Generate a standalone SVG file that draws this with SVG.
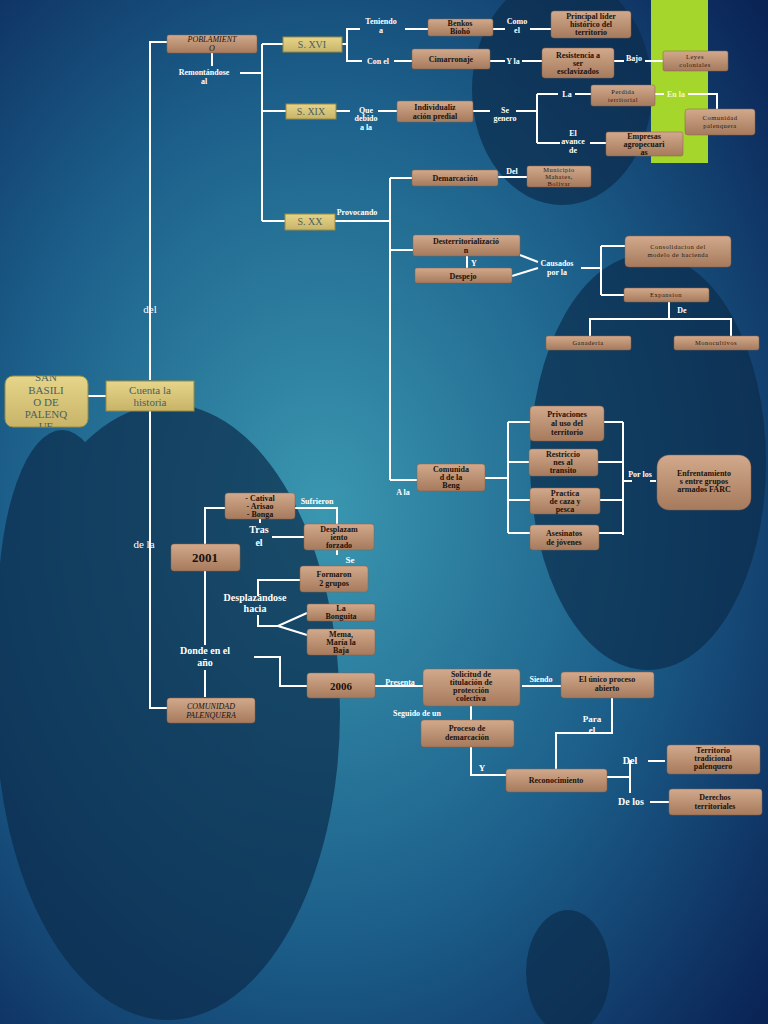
<svg xmlns="http://www.w3.org/2000/svg" width="768" height="1024" viewBox="0 0 768 1024">
<defs>
<radialGradient id="bg" cx="0.42" cy="0.5" r="0.75">
<stop offset="0" stop-color="#3a97b0"/><stop offset="0.55" stop-color="#1c5f8a"/><stop offset="1" stop-color="#0a2456"/>
</radialGradient>
<linearGradient id="br" x1="0" y1="0" x2="0" y2="1"><stop offset="0" stop-color="#d2a98c"/><stop offset="1" stop-color="#a67a5c"/></linearGradient>
<linearGradient id="gd" x1="0" y1="0" x2="0" y2="1"><stop offset="0" stop-color="#e6d58a"/><stop offset="1" stop-color="#c8b468"/></linearGradient>
<clipPath id="sb"><rect x="5" y="376" width="83" height="51" rx="8"/></clipPath>
</defs>
<style>
.n{fill:url(#br);stroke:#8a6048;stroke-width:0.5}
.g{fill:url(#gd);stroke:#9a8a40;stroke-width:1}
.t{font-family:"Liberation Serif",serif;font-weight:bold;font-size:8px;fill:#1a120c;text-anchor:middle}
.s{font-family:"Liberation Serif",serif;font-size:6.5px;fill:#2a1a10;text-anchor:middle;letter-spacing:0.5px}
.w{font-family:"Liberation Serif",serif;font-weight:bold;font-size:8px;fill:#fff;text-anchor:middle}
.wl{font-family:"Liberation Serif",serif;font-weight:bold;font-size:11px;fill:#fff;text-anchor:middle}
.c path,.c line{stroke:#fff;stroke-width:2;fill:none}
.x{font-family:"Liberation Serif",serif;font-size:10px;fill:#4a6060;text-anchor:middle}
.it{font-style:italic;font-weight:normal}
</style>
<rect width="768" height="1024" fill="url(#bg)"/>
<g fill="#0c2c4c" opacity="0.7">
<ellipse cx="62" cy="608" rx="64" ry="178"/>
<ellipse cx="168" cy="712" rx="172" ry="308"/>
<ellipse cx="648" cy="462" rx="118" ry="208"/>
<ellipse cx="562" cy="90" rx="90" ry="115"/>
<ellipse cx="568" cy="972" rx="42" ry="62"/>
</g>
<rect x="651" y="0" width="57" height="163" fill="#a4d62c"/>

<g class="c">
<line x1="88" y1="396" x2="106" y2="396"/>
<path d="M167,42H150V380M150,411V708H167"/>
<path d="M212,53V66M240,73H262M262,44V221M262,44H283M262,111H286M262,221H285"/>
<path d="M342,44H347M360,29H347V61H362M405,29H428M493,29H505M530,29H551M394,61H412M490,61H505M522,61H542M614,61H624M645,61H663"/>
<path d="M336,111H350M378,111H397M473,111H490M516,111H537M537,94V143M537,94H558M575,94H591M655,94H664M688,94H717V109M537,143H560M590,143H606"/>
<path d="M335,221H390M390,178V480M390,178H412M498,177H527M390,250H413M467,256V268M520,255L538,262M512,276L538,268M581,268H601M601,246V295M601,246H625M601,295H624M669,302V319M590,336V319H731V336"/>
<path d="M390,480H417M485,478H508M508,422V533M508,422H530M508,462H529M508,500H530M508,533H530M604,422H623M598,462H623M600,500H623M599,533H623M623,422V535M623,481H632M650,481H656"/>
<path d="M205,544V508H225M205,571V645M205,670V697M295,508H337V524M260,519V523M272,537H304M337,550V555M300,580H258V596M258,615V626H278L307,613M278,626L307,635M254,657H280V686H307"/>
<path d="M375,686H423M522,686H561M612,698V733H556V770M471,706V720M471,747V775H506M607,777H630M630,760V793M648,761H665M650,802H669"/>
</g>

<g id="sanbasilio"><rect x="5" y="376" width="83" height="51" rx="8" class="g"/>
<g clip-path="url(#sb)"><text class="x" x="46" y="381" style="font-size:11px">SAN</text><text class="x" x="46" y="394" style="font-size:11px">BASILI</text><text class="x" x="46" y="406" style="font-size:11px">O DE</text><text class="x" x="46" y="418" style="font-size:11px">PALENQ</text><text class="x" x="46" y="430" style="font-size:11px">UE</text></g></g>
<g id="cuenta"><rect x="106" y="381" width="88" height="30" class="g"/><text class="x" x="150" y="394" style="font-size:11px">Cuenta la</text><text class="x" x="150" y="406" style="font-size:11px">historia</text></g>
<text class="wl" x="150" y="313" style="font-weight:normal">del</text>
<text class="wl" x="144" y="548" style="font-weight:normal">de la</text>

<g id="poblamiento"><rect x="167" y="35" width="90" height="18" rx="2" class="n"/><text class="t it" x="212" y="42">POBLAMIENT</text><text class="t it" x="212" y="51">O</text></g>
<text class="w" x="204" y="75">Remontándose</text><text class="w" x="204" y="84">al</text>
<g id="s16"><rect x="283" y="37" width="59" height="15" class="g"/><text class="x" x="312" y="48">S. XVI</text></g>
<g id="s19"><rect x="286" y="104" width="50" height="15" class="g"/><text class="x" x="311" y="115">S. XIX</text></g>
<g id="s20"><rect x="285" y="214" width="50" height="16" class="g"/><text class="x" x="310" y="225">S. XX</text></g>

<text class="w" x="381" y="24">Teniendo</text><text class="w" x="381" y="33">a</text>
<g id="benkos"><rect x="428" y="19" width="65" height="17" rx="2" class="n"/><text class="t" x="460" y="26">Benkos</text><text class="t" x="460" y="34">Biohó</text></g>
<text class="w" x="517" y="24">Como</text><text class="w" x="517" y="33">el</text>
<g id="lider"><rect x="551" y="11" width="80" height="27" rx="3" class="n"/><text class="t" x="591" y="19">Principal líder</text><text class="t" x="591" y="27">histórico del</text><text class="t" x="591" y="35">territorio</text></g>
<text class="w" x="378" y="64">Con el</text>
<g id="cimarronaje"><rect x="412" y="49" width="78" height="20" rx="2" class="n"/><text class="t" x="451" y="62">Cimarronaje</text></g>
<text class="w" x="513" y="64">Y la</text>
<g id="resistencia"><rect x="542" y="48" width="72" height="30" rx="3" class="n"/><text class="t" x="578" y="58">Resistencia a</text><text class="t" x="578" y="66">ser</text><text class="t" x="578" y="74">esclavizados</text></g>
<text class="w" x="634" y="61">Bajo</text>
<g id="leyes"><rect x="663" y="51" width="65" height="20" rx="2" class="n"/><text class="s" x="695" y="59">Leyes</text><text class="s" x="695" y="67">coloniales</text></g>

<text class="w" x="366" y="113">Que</text><text class="w" x="366" y="121">debido</text><text class="w" x="366" y="130">a la</text>
<g id="individualizacion"><rect x="397" y="101" width="76" height="21" rx="2" class="n"/><text class="t" x="435" y="110">Individualiz</text><text class="t" x="435" y="119">ación predial</text></g>
<text class="w" x="505" y="113">Se</text><text class="w" x="505" y="121">genero</text>
<text class="w" x="567" y="97">La</text>
<g id="perdida"><rect x="591" y="85" width="64" height="21" rx="2" class="n"/><text class="s" x="623" y="94">Perdida</text><text class="s" x="623" y="102">territorial</text></g>
<text class="w" x="676" y="97" style="fill:#f2f6d0">En la</text>
<g id="comunidadpal"><rect x="685" y="109" width="70" height="26" rx="3" class="n"/><text class="s" x="720" y="120">Comunidad</text><text class="s" x="720" y="128">palenquera</text></g>
<text class="w" x="573" y="136">El</text><text class="w" x="573" y="144">avance</text><text class="w" x="573" y="153">de</text>
<g id="empresas"><rect x="606" y="132" width="77" height="24" rx="2" class="n"/><text class="t" x="644" y="139">Empresas</text><text class="t" x="644" y="147">agropecuari</text><text class="t" x="644" y="155">as</text></g>

<text class="w" x="357" y="215">Provocando</text>
<g id="demarcacion"><rect x="412" y="170" width="86" height="16" rx="2" class="n"/><text class="t" x="455" y="181">Demarcación</text></g>
<text class="w" x="512" y="174">Del</text>
<g id="municipio"><rect x="527" y="166" width="64" height="21" rx="2" class="n"/><text class="s" x="559" y="172">Municipio</text><text class="s" x="559" y="179">Mahates,</text><text class="s" x="559" y="186">Bolivar</text></g>
<g id="desterr"><rect x="413" y="235" width="107" height="21" rx="2" class="n"/><text class="t" x="466" y="244">Desterritorializació</text><text class="t" x="466" y="253">n</text></g>
<text class="w" x="474" y="266">Y</text>
<g id="despejo"><rect x="415" y="268" width="97" height="15" rx="2" class="n"/><text class="t" x="463" y="279">Despejo</text></g>
<text class="w" x="557" y="266">Causados</text><text class="w" x="557" y="275">por la</text>
<g id="consolidacion"><rect x="625" y="236" width="106" height="31" rx="4" class="n"/><text class="s" x="678" y="249">Consolidacion del</text><text class="s" x="678" y="257">modelo de hacienda</text></g>
<g id="expansion"><rect x="624" y="288" width="85" height="14" rx="2" class="n"/><text class="s" x="666" y="297">Expansion</text></g>
<text class="w" x="682" y="313">De</text>
<g id="ganaderia"><rect x="546" y="336" width="85" height="14" rx="2" class="n"/><text class="s" x="588" y="345">Ganadería</text></g>
<g id="monocultivos"><rect x="674" y="336" width="85" height="14" rx="2" class="n"/><text class="s" x="716" y="345">Monocultivos</text></g>

<g id="beng"><rect x="417" y="464" width="68" height="27" rx="3" class="n"/><text class="t" x="451" y="472">Comunida</text><text class="t" x="451" y="480">d de la</text><text class="t" x="451" y="488">Beng</text></g>
<text class="w" x="403" y="495">A la</text>
<g id="privaciones"><rect x="530" y="406" width="74" height="35" rx="4" class="n"/><text class="t" x="567" y="417">Privaciones</text><text class="t" x="567" y="426">al uso del</text><text class="t" x="567" y="435">territorio</text></g>
<g id="restricciones"><rect x="529" y="449" width="69" height="27" rx="3" class="n"/><text class="t" x="563" y="457">Restriccio</text><text class="t" x="563" y="465">nes al</text><text class="t" x="563" y="473">transito</text></g>
<g id="practica"><rect x="530" y="488" width="70" height="26" rx="3" class="n"/><text class="t" x="565" y="496">Practica</text><text class="t" x="565" y="504">de caza y</text><text class="t" x="565" y="512">pesca</text></g>
<g id="asesinatos"><rect x="530" y="525" width="69" height="25" rx="3" class="n"/><text class="t" x="564" y="536">Asesinatos</text><text class="t" x="564" y="545">de jóvenes</text></g>
<text class="w" x="640" y="477">Por los</text>
<g id="enfrentamiento"><rect x="657" y="455" width="94" height="55" rx="12" class="n"/><text class="t" x="704" y="476">Enfrentamiento</text><text class="t" x="704" y="484">s entre grupos</text><text class="t" x="704" y="492">armados FARC</text></g>

<g id="y2001"><rect x="171" y="544" width="69" height="27" rx="3" class="n"/><text class="t" x="205" y="562" style="font-size:13px">2001</text></g>
<g id="catival"><rect x="225" y="493" width="70" height="26" rx="3" class="n"/><text class="t" x="260" y="501">- Catival</text><text class="t" x="260" y="509">- Arisao</text><text class="t" x="260" y="517">- Bonga</text></g>
<text class="w" x="317" y="504">Sufrieron</text>
<text class="wl" x="259" y="533" style="font-size:10px">Tras</text><text class="wl" x="259" y="546" style="font-size:10px">el</text>
<g id="desplazamiento"><rect x="304" y="524" width="70" height="26" rx="3" class="n"/><text class="t" x="339" y="532">Desplazam</text><text class="t" x="339" y="540">iento</text><text class="t" x="339" y="548">forzado</text></g>
<text class="w" x="350" y="563" style="font-size:9px">Se</text>
<g id="formaron"><rect x="300" y="566" width="68" height="26" rx="3" class="n"/><text class="t" x="334" y="577">Formaron</text><text class="t" x="334" y="586">2 grupos</text></g>
<text class="wl" x="255" y="601" style="font-size:10px">Desplazándose</text><text class="wl" x="255" y="612" style="font-size:10px">hacia</text>
<g id="bonguita"><rect x="307" y="604" width="68" height="17" rx="2" class="n"/><text class="t" x="341" y="611">La</text><text class="t" x="341" y="619">Bonguita</text></g>
<g id="mema"><rect x="307" y="629" width="68" height="26" rx="3" class="n"/><text class="t" x="341" y="637">Mema,</text><text class="t" x="341" y="645">María la</text><text class="t" x="341" y="653">Baja</text></g>
<text class="wl" x="205" y="654" style="font-size:10px">Donde en el</text><text class="wl" x="205" y="666" style="font-size:10px">año</text>
<g id="y2006"><rect x="307" y="673" width="68" height="25" rx="3" class="n"/><text class="t" x="341" y="690" style="font-size:11px">2006</text></g>
<g id="comunidadpalenquera"><rect x="167" y="698" width="88" height="25" rx="3" class="n"/><text class="t it" x="211" y="709">COMUNIDAD</text><text class="t it" x="211" y="718">PALENQUERA</text></g>

<text class="w" x="400" y="685">Presenta</text>
<g id="solicitud"><rect x="423" y="669" width="97" height="37" rx="4" class="n"/><text class="t" x="471" y="677">Solicitud de</text><text class="t" x="471" y="685">titulación de</text><text class="t" x="471" y="693">protección</text><text class="t" x="471" y="701">colectiva</text></g>
<text class="w" x="541" y="682">Siendo</text>
<g id="unico"><rect x="561" y="672" width="93" height="26" rx="3" class="n"/><text class="t" x="607" y="682">El único proceso</text><text class="t" x="607" y="691">abierto</text></g>
<text class="w" x="417" y="716">Seguido de un</text>
<g id="proceso"><rect x="421" y="720" width="93" height="27" rx="3" class="n"/><text class="t" x="467" y="731">Proceso de</text><text class="t" x="467" y="740">demarcación</text></g>
<text class="w" x="592" y="722" style="font-size:9px">Para</text><text class="w" x="592" y="733" style="font-size:9px">el</text>
<text class="w" x="482" y="771" style="font-size:9px">Y</text>
<g id="reconocimiento"><rect x="506" y="769" width="101" height="23" rx="3" class="n"/><text class="t" x="556" y="783">Reconocimiento</text></g>
<text class="w" x="630" y="764" style="font-size:10px">Del</text>
<g id="territorio"><rect x="667" y="745" width="93" height="29" rx="3" class="n"/><text class="t" x="713" y="753">Territorio</text><text class="t" x="713" y="761">tradicional</text><text class="t" x="713" y="769">palenquero</text></g>
<text class="w" x="631" y="805" style="font-size:10px">De los</text>
<g id="derechos"><rect x="669" y="789" width="93" height="26" rx="3" class="n"/><text class="t" x="715" y="800">Derechos</text><text class="t" x="715" y="809">territoriales</text></g>
</svg>
